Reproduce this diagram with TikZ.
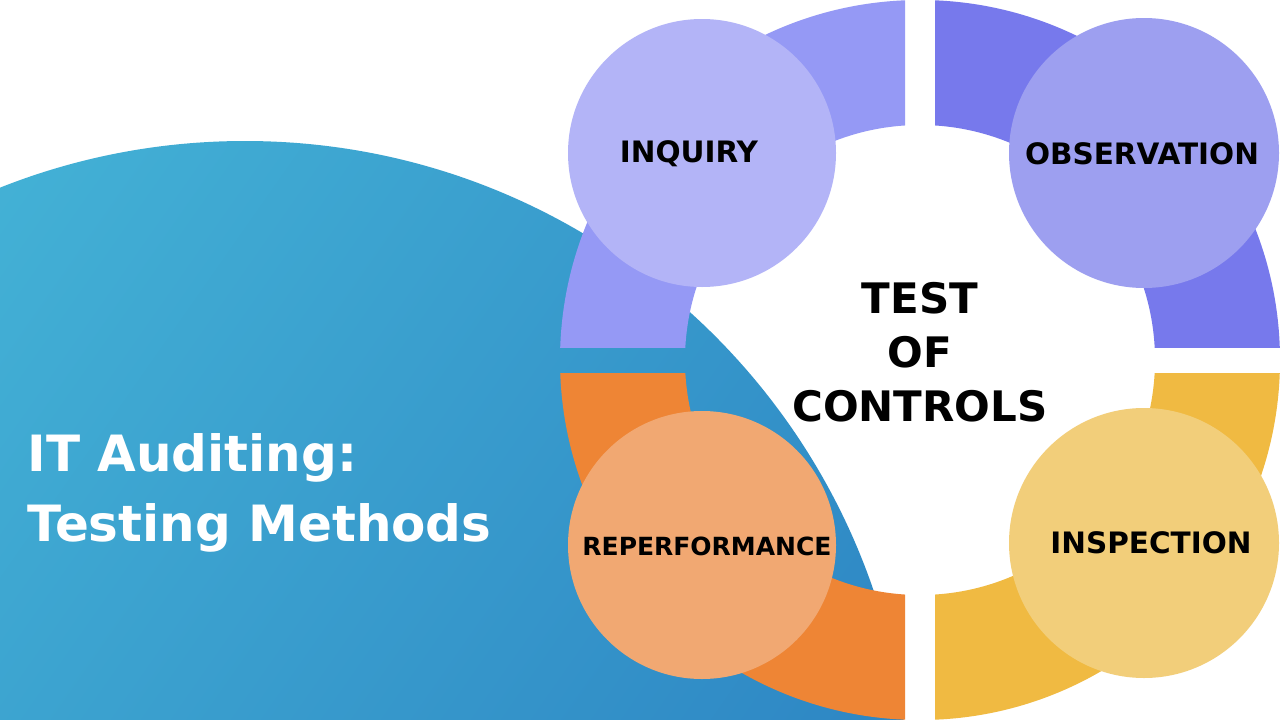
\documentclass[tikz,border=0pt]{standalone}
\usepackage{fontspec}
\setmainfont{DejaVu Sans}
\usepackage{tikz}
\definecolor{BlueLight}{HTML}{45B5D7}
\definecolor{BlueDark}{HTML}{2A7FC1}
\definecolor{ArcInquiry}{HTML}{9599F5}
\definecolor{ArcObserv}{HTML}{7779EC}
\definecolor{ArcReperf}{HTML}{EE8535}
\definecolor{ArcInspect}{HTML}{F0BA42}
\definecolor{DotInquiry}{HTML}{B3B4F7}
\definecolor{DotObserv}{HTML}{9D9FF0}
\definecolor{DotReperf}{HTML}{F1A872}
\definecolor{DotInspect}{HTML}{F2CE7A}
\begin{document}
\begin{tikzpicture}[x=1pt, y=-1pt,
  dot/.style={circle, minimum size=268pt, inner sep=0pt},
  method/.style={font=\fontsize{29.5}{32}\selectfont\bfseries, text=black},
  hub/.style={font=\fontsize{42}{54}\selectfont\bfseries, align=center, text=black},
  title/.style={font=\fontsize{50}{70}\selectfont\bfseries, align=left, text=white, anchor=west}]
%%%%% Background %%%%%
\fill[white] (0,0) rectangle (1280,720);
\useasboundingbox (0,0) rectangle (1280,720);
\begin{scope}
\clip (0,0) rectangle (1280,720);
\shade[left color=BlueLight, right color=BlueDark, shading angle=55]
  (245,805) circle (664);
\end{scope}
%%%%% Ring %%%%%
\foreach \xa/\ya/\xb/\yb/\col in {560/0/905/347/ArcInquiry, 935/0/1280/347/ArcObserv,
  560/373/905/720/ArcReperf, 935/373/1280/720/ArcInspect}{
\begin{scope}
\clip (\xa,\ya) rectangle (\xb,\yb);
\fill[\col, even odd rule] (920,360) circle (360) (920,360) circle (235);
\end{scope}
}
%%%%% Methods %%%%%
\node[dot, fill=DotInquiry] (inquiry) at (702,153) {};
\node[dot, fill=DotObserv, minimum size=270pt] (observation) at (1144,153) {};
\node[dot, fill=DotReperf] (reperformance) at (702,545) {};
\node[dot, fill=DotInspect, minimum size=270pt] (inspection) at (1144,543) {};
\node[method] (inquirytxt) at (689,154) {INQUIRY};
\node[method] (observationtxt) at (1142,154) {OBSERVATION};
\node[method, font=\fontsize{25}{28}\selectfont\bfseries] (reperformancetxt) at (707,546) {REPERFORMANCE};
\node[method] (inspectiontxt) at (1151,543) {INSPECTION};
\node[hub] (center) at (920,352) {TEST\\OF\\CONTROLS};
%%%%% Title %%%%%
\node[title] (heading) at (24,493) {IT Auditing:\\Testing Methods};
\end{tikzpicture}
\end{document}
